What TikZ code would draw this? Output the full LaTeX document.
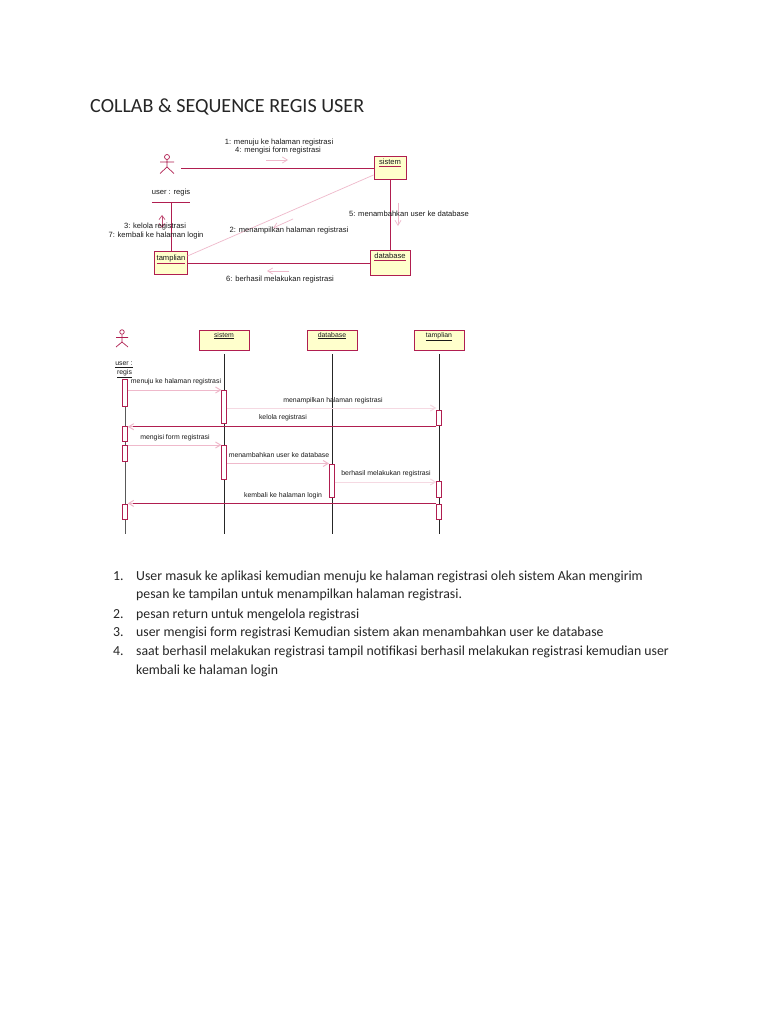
\documentclass[tikz,border=0pt]{standalone}
\usepackage{fontspec}
\setmainfont{Carlito}
\newfontfamily\umlfont{Liberation Sans}
\usetikzlibrary{arrows.meta}
\definecolor{uml}{HTML}{B01E50}
\definecolor{umlfill}{HTML}{FFFFCC}
\definecolor{msgpale}{HTML}{EFB9CB}
\definecolor{msgfaint}{HTML}{F5D9E2}
\definecolor{txt}{HTML}{1A1A1A}
\newcommand{\uline}[1]{{\color{uml}\underline{\textcolor{txt}{#1}}}}
\tikzset{
  objbox/.style={draw=uml,fill=umlfill,line width=1pt,inner sep=0pt,rectangle},
  lbl/.style={font=\umlfont\fontsize{7.6}{8}\selectfont,text=txt,inner sep=0pt,align=center},
  slbl/.style={font=\umlfont\fontsize{6.9}{7}\selectfont,text=txt,inner sep=0pt,align=center},
  link/.style={draw=uml,line width=1pt},
  thinlink/.style={draw=msgpale,line width=.7pt},
  lifeline/.style={draw=black!85,line width=1pt},
  act/.style={draw=uml,fill=white,line width=1pt,inner sep=0pt,rectangle,minimum width=4.5pt},
  opena/.style={-{Straight Barb[length=5pt,width=6pt]},draw=msgpale,line width=.7pt},
  msg/.style={-{Straight Barb[length=5pt,width=6pt]},draw=msgpale,line width=1pt},
  msgf/.style={-{Straight Barb[length=5pt,width=6pt]},draw=msgfaint,line width=1pt},
  ret/.style={draw=uml,line width=1pt},
  bodyt/.style={font=\fontsize{13.8}{16}\selectfont,text=black!85,inner sep=0pt,anchor=base west},
  actorline/.style={draw=uml,line width=.7pt},
}
\begin{document}
\begin{tikzpicture}[x=1pt,y=-1pt]
\useasboundingbox (0,0) rectangle (768,1024);
\fill[white] (0,0) rectangle (768,1024);
\node[font=\fontsize{20.1}{24}\selectfont,text=black!85,inner sep=0pt,anchor=base west] (title) at (90,113) {COLLAB \& SEQUENCE REGIS USER};

% collaboration diagram
\node[circle,draw=uml,line width=.7pt,minimum size=5pt,inner sep=0pt] (cuserhead) at (167,157) {};
\draw[actorline] (cuserhead.south) -- (167,167) coordinate (chip) (160,162) -- (174,162) (chip) -- (160,173.5) (chip) -- (174,173.5);
\node[lbl] (cuser) at (171,193) {user : regis};
\node[minimum width=38pt,minimum height=0pt,inner sep=0pt] (cbar) at (171,203) {};
\draw[link] (cbar.west) -- (cbar.east);
\coordinate (cactor) at (181,169);
\node[objbox,minimum width=32pt,minimum height=23pt] (csistem) at (390,168.5) {};
\node[objbox,minimum width=40pt,minimum height=25pt] (cdb) at (390,262.5) {};
\node[objbox,minimum width=33pt,minimum height=23pt] (ctamp) at (170.5,262.5) {};
\node[lbl,anchor=base] (tsistem) at (390,165) {\uline{sistem}};
\node[lbl,anchor=base] (tdb) at (390,258.5) {\uline{database}};
\node[lbl,anchor=base] (ttamp) at (171,260) {\uline{tamplian}};
\draw[link] (cactor) -- (csistem.west |- cactor);
\draw[link] (csistem) -- (cdb);
\draw[link] (ctamp.east |- 0,263) -- (cdb.west |- 0,263);
\draw[link] (cbar.center) -- (cbar.center |- ctamp.north);
\draw[thinlink] (csistem.west |- 0,175) -- (ctamp.east |- 0,256);
\draw[opena] (266,160) -- (288,160);
\draw[opena] (293,219) -- (273,228);
\draw[opena] (398,203) -- (398,226);
\draw[opena] (289,271) -- (267,271);
\draw[opena,{Straight Barb[length=4pt,width=6pt]}-{Straight Barb[length=4pt,width=6pt]},draw=uml!80] (162,215) -- (162,228);
\node[lbl] (m1) at (279,143) {1: menuju ke halaman registrasi};
\node[lbl] (m4) at (278,151) {4: mengisi form registrasi};
\node[lbl] (m5) at (409,214) {5: menambahkan user ke database};
\node[lbl] (m3) at (155,227) {3: kelola registrasi};
\node[lbl] (m7) at (156,236) {7: kembali ke halaman login};
\node[lbl] (m2) at (289,230.5) {2: menampilkan halaman registrasi};
\node[lbl] (m6) at (280,279.5) {6: berhasil melakukan registrasi};

% sequence diagram
\node[circle,draw=uml,line width=.7pt,minimum size=4.5pt,inner sep=0pt] (suserhead) at (122,332) {};
\draw[actorline] (suserhead.south) -- (122,342) coordinate (ship) (116,337.5) -- (128,337.5) (ship) -- (116,347) (ship) -- (128,347);
\node[slbl] (suser1) at (124,365) {\underline{user :}};
\node[slbl] (suser2) at (124.5,374) {\underline{regis}};
\node[objbox,minimum width=50pt,minimum height=20pt] (ssis) at (224,340) {};
\node[objbox,minimum width=50pt,minimum height=20pt] (sdb) at (332,340) {};
\node[objbox,minimum width=50pt,minimum height=20pt] (stam) at (439,340) {};
\node[slbl,anchor=base] (tssis) at (224,337) {\underline{sistem}};
\node[slbl,anchor=base] (tsdb) at (332,337) {\underline{database}};
\node[slbl,anchor=base] (tstam) at (439,337) {\underline{tamplian}};
\coordinate (eu) at (125,534);
\coordinate (es) at (224,534);
\coordinate (ed) at (332,534);
\coordinate (et) at (439,534);
\draw[lifeline,draw=black!65] (125,379) -- (eu);
\draw[lifeline] (224,354) -- (es);
\draw[lifeline] (332,354) -- (ed);
\draw[lifeline] (439,354) -- (et);
\node[act,minimum height=27pt] (au1) at (125,392.5) {};
\node[act,minimum height=15pt] (au2) at (125,434) {};
\node[act,minimum height=16pt] (au3) at (125,453) {};
\node[act,minimum height=15pt] (au4) at (125,511.5) {};
\node[act,minimum height=33.5pt] (as1) at (224.2,406.8) {};
\node[act,minimum height=34pt] (as2) at (224.2,462) {};
\node[act,minimum height=32.5pt] (ad1) at (331.8,480.8) {};
\node[act,minimum height=15pt] (at1) at (439,417.5) {};
\node[act,minimum height=15.5pt] (at2) at (439,489.3) {};
\node[act,minimum height=15pt] (at3) at (439,511.5) {};
\draw[msg] (au1.east |- 0,390) -- (as1.west |- 0,390);
\draw[msgf] (as1.east |- 0,408) -- (at1.west |- 0,408);
\draw[ret] (at1.west |- 0,426.7) -- ([xshift=5pt]au2.east |- 0,426.7);
\draw[msg] ([xshift=5pt]au2.east |- 0,426.7) -- (au2.east |- 0,426.7);
\draw[msg] (au3.east |- 0,445) -- (as2.west |- 0,445);
\draw[msg] (as2.east |- 0,463.5) -- (ad1.west |- 0,463.5);
\draw[msgf] (ad1.east |- 0,482) -- (at2.west |- 0,482);
\draw[ret] (at3.west |- 0,503.4) -- ([xshift=5pt]au4.east |- 0,503.4);
\draw[msg] ([xshift=5pt]au4.east |- 0,503.4) -- (au4.east |- 0,503.4);
\node[slbl] (q1) at (176,381.5) {menuju ke halaman registrasi};
\node[slbl] (q2) at (333,400.5) {menampilkan halaman registrasi};
\node[slbl] (q3) at (283,418) {kelola registrasi};
\node[slbl] (q4) at (175,437.5) {mengisi form registrasi};
\node[slbl] (q5) at (279,455) {menambahkan user ke database};
\node[slbl] (q6) at (386,473.5) {berhasil melakukan registrasi};
\node[slbl] (q7) at (283,495.5) {kembali ke halaman login};

% numbered list
\node[bodyt] (n1) at (113,580) {1.};
\node[bodyt] (l1) at (136,580) {User masuk ke aplikasi kemudian menuju ke halaman registrasi oleh sistem Akan mengirim};
\node[bodyt] (l1b) at (136,598) {pesan ke tampilan untuk menampilkan halaman registrasi.};
\node[bodyt] (n2) at (113,618) {2.};
\node[bodyt] (l2) at (136,618) {pesan return untuk mengelola registrasi};
\node[bodyt] (n3) at (113,636) {3.};
\node[bodyt] (l3) at (136,636) {user mengisi form registrasi Kemudian sistem akan menambahkan user ke database};
\node[bodyt] (n4) at (113,655) {4.};
\node[bodyt] (l4) at (136,655) {saat berhasil melakukan registrasi tampil notifikasi berhasil melakukan registrasi kemudian user};
\node[bodyt] (l4b) at (136,674) {kembali ke halaman login};
\end{tikzpicture}
\end{document}
